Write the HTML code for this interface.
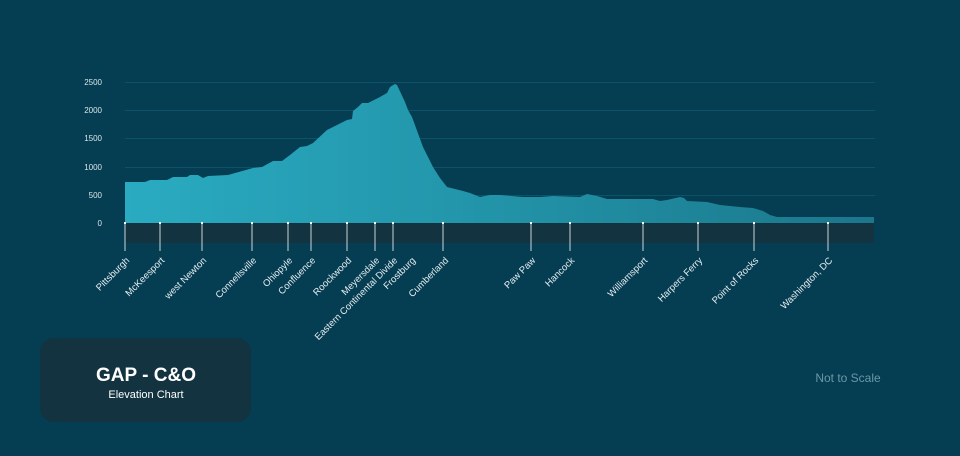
<!DOCTYPE html>
<html><head><style>
body{margin:0;width:960px;height:456px;background:#053d52;overflow:hidden;font-family:"Liberation Sans",sans-serif}
</style></head><body>
<svg width="960" height="456" xmlns="http://www.w3.org/2000/svg" style="position:absolute;left:0;top:0">
<defs>
<linearGradient id="g" x1="0" x2="1" y1="0" y2="0">
<stop offset="0" stop-color="#2aabc1"/><stop offset="0.5" stop-color="#2293a8"/><stop offset="1" stop-color="#1b778b"/>
</linearGradient>
</defs>
<g stroke="#0b5368" stroke-width="1">
<line x1="125" x2="875" y1="82.5" y2="82.5"/><line x1="125" x2="875" y1="110.5" y2="110.5"/>
<line x1="125" x2="875" y1="138.5" y2="138.5"/><line x1="125" x2="875" y1="167.5" y2="167.5"/>
<line x1="125" x2="875" y1="195.5" y2="195.5"/>
</g>
<g fill="#d8e6ea" font-size="8" text-anchor="end">
<text x="102" y="85">2500</text><text x="102" y="113">2000</text><text x="102" y="141">1500</text>
<text x="102" y="170">1000</text><text x="102" y="198">500</text><text x="102" y="226">0</text>
</g>
<path fill="url(#g)" d="M125,223 L125,182 L145,182 L150,180 L167,180 L173,177 L187,177 L190,175 L198,175 L203,178 L208,176 L228,175 L253,168 L262,167 L273,161 L282,161 L290,155 L300,147 L307,146 L313,143 L327,130 L337,125 L347,120 L352,119 L353,111 L358,107 L362,103 L368,103 L380,97 L387,93 L390,87 L395,84 L397,85 L405,102 L408,110 L412,117 L423,147 L433,167 L440,178 L447,187 L463,191 L470,193 L480,197 L490,195 L500,195 L523,197 L540,197 L553,196 L580,197 L587,194 L597,196 L607,199 L653,199 L660,201 L667,200 L680,197 L684,198 L687,201 L707,202 L720,205 L740,207 L753,208 L763,211 L770,215 L777,217 L874,217 L874,223 Z"/>
<rect x="125" y="223" width="749" height="20" fill="#12333f"/>
<g stroke="#c9d6da" stroke-width="1">
<line x1="125" x2="125" y1="223" y2="251"/><line x1="160" x2="160" y1="223" y2="251"/>
<line x1="202" x2="202" y1="223" y2="251"/><line x1="252" x2="252" y1="223" y2="251"/>
<line x1="288" x2="288" y1="223" y2="251"/><line x1="311" x2="311" y1="223" y2="251"/>
<line x1="347" x2="347" y1="223" y2="251"/><line x1="375" x2="375" y1="223" y2="251"/>
<line x1="393" x2="393" y1="223" y2="251"/><line x1="443" x2="443" y1="223" y2="251"/>
<line x1="531" x2="531" y1="223" y2="251"/><line x1="570" x2="570" y1="223" y2="251"/>
<line x1="643" x2="643" y1="223" y2="251"/><line x1="698" x2="698" y1="223" y2="251"/>
<line x1="754" x2="754" y1="223" y2="251"/><line x1="828" x2="828" y1="223" y2="251"/>
</g>
<g fill="#ffffff">
<rect x="124" y="222" width="2" height="2"/><rect x="159" y="222" width="2" height="2"/><rect x="201" y="222" width="2" height="2"/><rect x="251" y="222" width="2" height="2"/><rect x="287" y="222" width="2" height="2"/><rect x="310" y="222" width="2" height="2"/><rect x="346" y="222" width="2" height="2"/><rect x="374" y="222" width="2" height="2"/><rect x="392" y="222" width="2" height="2"/><rect x="442" y="222" width="2" height="2"/><rect x="530" y="222" width="2" height="2"/><rect x="569" y="222" width="2" height="2"/><rect x="642" y="222" width="2" height="2"/><rect x="697" y="222" width="2" height="2"/><rect x="753" y="222" width="2" height="2"/><rect x="827" y="222" width="2" height="2"/>
</g>
<g fill="#e6eef0" font-size="9.5" text-anchor="end">
<text transform="translate(130,261) rotate(-45)">Pittsburgh</text>
<text transform="translate(165,261) rotate(-45)">McKeesport</text>
<text transform="translate(207,261) rotate(-45)">west Newton</text>
<text transform="translate(257,261) rotate(-45)">Connellsville</text>
<text transform="translate(293,261) rotate(-45)">Ohiopyle</text>
<text transform="translate(316,261) rotate(-45)">Confluence</text>
<text transform="translate(352,261) rotate(-45)">Roockwood</text>
<text transform="translate(380,261) rotate(-45)">Meyersdale</text>
<text transform="translate(398,261) rotate(-45)">Eastern Continental Divide</text>
<text transform="translate(416,261) rotate(-45)">Frostburg</text>
<text transform="translate(449,261) rotate(-45)">Cumberland</text>
<text transform="translate(536,261) rotate(-45)">Paw Paw</text>
<text transform="translate(575,261) rotate(-45)">Hancock</text>
<text transform="translate(648,261) rotate(-45)">Williamsport</text>
<text transform="translate(703,261) rotate(-45)">Harpers Ferry</text>
<text transform="translate(759,261) rotate(-45)">Point of Rocks</text>
<text transform="translate(833,261) rotate(-45)">Washington, DC</text>
</g>
<rect x="40" y="338" width="211" height="84" rx="14" fill="#12333f"/>
<text x="146" y="381" fill="#ffffff" font-size="19" font-weight="bold" text-anchor="middle">GAP - C&amp;O</text>
<text x="146" y="398" fill="#ffffff" font-size="11" text-anchor="middle">Elevation Chart</text>
<text x="848" y="382" fill="#6a98a6" font-size="12" text-anchor="middle">Not to Scale</text>
</svg>
</body></html>
